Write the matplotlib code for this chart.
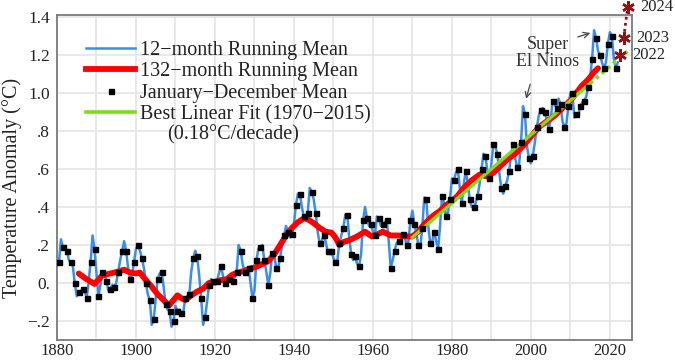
import matplotlib
matplotlib.use("Agg")
import matplotlib.pyplot as plt
from matplotlib.lines import Line2D
import numpy as np

plt.rcParams['font.family'] = ['Liberation Serif', 'DejaVu Serif']

# ---- data (anomaly, deg C) ----
years = list(range(1880, 2022))
annual = [0.11, 0.19, 0.17, 0.11, 0.00, -0.05, -0.03, -0.08, 0.11, 0.18,
          -0.07, 0.06, 0.01, -0.03, -0.02, 0.06, 0.17, 0.17, 0.02, 0.11,
          0.20, 0.13, 0.00, -0.09, -0.19, 0.02, 0.06, -0.11, -0.15, -0.20,
          -0.15, -0.16, -0.08, -0.06, 0.13, 0.14, -0.08, -0.18, -0.01, 0.01,
          0.01, 0.09, 0.00, 0.02, 0.01, 0.06, 0.17, 0.06, 0.08, -0.08,
          0.12, 0.19, 0.12, -0.01, 0.16, 0.08, 0.13, 0.25, 0.27, 0.26,
          0.41, 0.47, 0.35, 0.37, 0.48, 0.37, 0.21, 0.25, 0.17, 0.17,
          0.11, 0.21, 0.29, 0.36, 0.15, 0.14, 0.09, 0.33, 0.34, 0.31,
          0.25, 0.34, 0.31, 0.33, 0.08, 0.17, 0.22, 0.26, 0.20, 0.33,
          0.31, 0.20, 0.29, 0.44, 0.21, 0.27, 0.18, 0.46, 0.35, 0.44,
          0.54, 0.60, 0.42, 0.59, 0.44, 0.40, 0.46, 0.60, 0.67, 0.55,
          0.73, 0.68, 0.50, 0.51, 0.59, 0.73, 0.61, 0.74, 0.89, 0.66,
          0.67, 0.82, 0.91, 0.90, 0.81, 0.96, 0.92, 0.94, 0.82, 0.93,
          1.00, 0.89, 0.93, 0.96, 1.03, 1.18, 1.29, 1.20, 1.13, 1.26,
          1.30, 1.13]

# 12-month running mean at the turn of each year (Jul-Jun means), 1881..2022
mid_years = list(range(1881, 2023))
mid_vals = [0.23, 0.19, 0.12, 0.09, -0.07, -0.05, -0.04, 0.00, 0.25, 0.05,
            -0.01, 0.05, -0.04, -0.01, 0.00, 0.12, 0.22, 0.08, 0.04, 0.18,
            0.17, 0.08, -0.06, -0.22, -0.08, 0.05, -0.02, -0.14, -0.23, -0.12,
            -0.14, -0.15, -0.08, 0.06, 0.17, 0.04, -0.22, -0.10, 0.02, -0.01,
            0.05, 0.04, 0.01, 0.01, 0.03, 0.20, 0.10, 0.07, 0.00, -0.04,
            0.18, 0.20, 0.06, 0.05, 0.15, 0.08, 0.20, 0.30, 0.24, 0.31,
            0.47, 0.40, 0.33, 0.50, 0.44, 0.27, 0.22, 0.22, 0.16, 0.13,
            0.12, 0.25, 0.36, 0.24, 0.12, 0.10, 0.15, 0.40, 0.30, 0.27,
            0.35, 0.30, 0.32, 0.22, 0.12, 0.21, 0.22, 0.25, 0.22, 0.38,
            0.26, 0.19, 0.45, 0.30, 0.22, 0.22, 0.30, 0.42, 0.37, 0.55,
            0.58, 0.50, 0.52, 0.53, 0.40, 0.42, 0.52, 0.68, 0.58, 0.63,
            0.72, 0.58, 0.47, 0.54, 0.68, 0.66, 0.62, 0.93, 0.72, 0.63,
            0.74, 0.88, 0.92, 0.86, 0.86, 0.94, 0.97, 0.85, 0.84, 1.00,
            0.87, 0.88, 0.95, 0.98, 1.08, 1.33, 1.22, 1.16, 1.16, 1.32,
            1.18, 1.16]

# 132-month running mean
red_years = [1885.5, 1887.5, 1889.5, 1891.5, 1893.5, 1895.5, 1897.0, 1898.5,
             1900.0, 1901.0, 1902.5, 1904.0, 1905.5, 1907.0, 1908.3, 1909.5,
             1910.5, 1911.5, 1912.5, 1914.0, 1915.5, 1917.0, 1918.5, 1920.0,
             1921.5, 1923.0, 1924.5, 1926.0, 1927.5, 1929.0, 1930.5, 1932.0,
             1933.5, 1935.0, 1936.5, 1938.0, 1939.5, 1941.0, 1942.5, 1943.5,
             1945.0, 1946.5, 1948.0, 1949.5, 1950.5, 1951.5, 1952.5, 1954.0,
             1956.0, 1958.0, 1959.7, 1961.0, 1962.5, 1964.5, 1966.5, 1968.5,
             1970.0, 1971.5, 1973.0, 1975.0, 1977.0, 1978.5, 1980.0, 1981.5,
             1983.0, 1985.0, 1987.0, 1989.0, 1990.5, 1992.0, 1994.0, 1996.0,
             1998.0, 2000.0, 2002.0, 2004.0, 2006.0, 2008.0, 2010.0, 2011.5,
             2013.0, 2014.5, 2016.0, 2017.0]
red_vals = [0.05, 0.02, -0.005, 0.04, 0.05, 0.06, 0.07, 0.055,
            0.05, 0.055, 0.015, -0.02, -0.06, -0.09, -0.12, -0.09,
            -0.065, -0.08, -0.09, -0.065, -0.045, -0.03, 0.0, 0.005,
            0.015, 0.02, 0.045, 0.055, 0.065, 0.077, 0.085, 0.10,
            0.115, 0.15, 0.20, 0.25, 0.29, 0.32, 0.34, 0.335,
            0.315, 0.29, 0.27, 0.265, 0.24, 0.20, 0.215, 0.225,
            0.245, 0.27, 0.245, 0.255, 0.27, 0.25, 0.25, 0.245,
            0.245, 0.27, 0.31, 0.35, 0.38, 0.41, 0.43, 0.46,
            0.50, 0.54, 0.57, 0.56, 0.58, 0.61, 0.65, 0.68,
            0.72, 0.77, 0.82, 0.85, 0.88, 0.92, 0.96, 1.00,
            1.04, 1.07, 1.11, 1.13]

# best linear fit 1970-2015 and its extension
fit_years = [1970, 2015]
fit_vals = [0.24, 1.05]
ext_years = [2015, 2024.5]
ext_vals = [1.05, 1.22]

# recent years (stars)
star_years = [2022, 2023, 2024]
star_vals = [1.20, 1.29, 1.45]
star_labels = ['2022', '2023', '2024']

# ---- figure ----
W, H = 675, 360
fig = plt.figure(figsize=(W / 100, H / 100), dpi=100)
ax = fig.add_axes([57 / W, 1 - 340 / H, (632 - 57) / W, (340 - 15) / H])

blue = '#3a8ee8'
red = '#ff0000'
green = '#7edc1c'
dark_red = '#8b1414'

# grid
ax.set_xticks(np.arange(1880, 2021, 20))
ax.set_xticks(np.arange(1890, 2021, 20), minor=True)
yt = [-0.2, 0.0, 0.2, 0.4, 0.6, 0.8, 1.0, 1.2, 1.4]
ax.set_yticks(yt)
ax.set_yticklabels(['\u2212.2', '0.', '.2', '.4', '.6', '.8', '1.0', '1.2', '1.4'])
ax.grid(True, which='both', color='#e4e4e4', lw=1.2, zorder=0)
ax.set_axisbelow(True)
ax.tick_params(which='both', length=0, labelsize=12.5, colors='#222222')
ax.tick_params(axis='y', pad=5)
ax.tick_params(axis='x', pad=2.5, labelsize=12)

# blue line: annual means at mid-year merged with turn-of-year values
bx = [y + 0.5 for y in years] + [float(y) for y in mid_years]
by = annual + mid_vals
order = np.argsort(bx)
bx = np.array(bx)[order]
by = np.array(by)[order]
ax.plot(bx, by, color=blue, lw=1.8, zorder=2, solid_joinstyle='round')

# red 132-month mean
ax.plot(red_years, red_vals, color=red, lw=4.2, solid_capstyle='round', zorder=3)

# linear fit
ax.plot(fit_years, fit_vals, color=green, lw=2.4, zorder=4)
ax.plot(ext_years, ext_vals, color=green, lw=2.6, ls=(0, (1, 1.1)), zorder=4)

# annual squares
ax.plot([y + 0.5 for y in years], annual, ls='none', marker='s', ms=3.6,
        color='black', zorder=5)

# stars
sx = [y + 0.5 for y in star_years]
ax.plot(sx[1:], star_vals[1:], color=dark_red, lw=2, ls=(0, (1, 1.2)),
        clip_on=False, zorder=6)
ax.plot(sx, star_vals, ls='none', marker=(6, 2, 0), ms=9, mew=1.8,
        color=dark_red, clip_on=False, zorder=7)
for x, v, lab in zip(sx, star_vals, star_labels):
    ax.annotate(lab, (x, v), xytext=(9, 0), textcoords='offset points',
                va='center', ha='left', fontsize=12, color='#222222',
                annotation_clip=False)

ax.set_xlim(1880, 2025.6)
ax.set_ylim(-0.3, 1.41)

for s in ax.spines.values():
    s.set_color('#7a7a7a')
    s.set_linewidth(1.3)

ax.set_ylabel('Temperature Anomaly (\u00b0C)', fontsize=14.5, color='#222222')
ax.yaxis.set_label_coords(-0.078, 0.469)
ax.yaxis.label.set_va('center')

# El Nino annotation
ax.text(2004.3, 1.21, 'Super\nEl Ninos', ha='center', va='center',
        fontsize=13, linespacing=1.05, color='#333333')
ax.annotate('', xy=(2015.7, 1.32), xytext=(2011.2, 1.29),
            arrowprops=dict(arrowstyle='->', color='#444444', lw=0.9))
ax.annotate('', xy=(1998.6, 0.955), xytext=(2000.0, 1.06),
            arrowprops=dict(arrowstyle='->', color='#444444', lw=0.9))

# legend
handles = [Line2D([], [], color=blue, lw=1.8),
           Line2D([], [], color=red, lw=4.2),
           Line2D([], [], ls='none', marker='s', ms=3.6, color='black'),
           Line2D([], [], color=green, lw=2.6)]
labels = ['12\u2212month Running Mean', '132\u2212month Running Mean',
          'January\u2212December Mean', 'Best Linear Fit (1970\u22122015)']
leg = ax.legend(handles, labels, loc='upper left',
                bbox_to_anchor=(86 / W, 1 - 40.5 / H), bbox_transform=fig.transFigure,
                frameon=False, fontsize=14.5, handlelength=2.45, handletextpad=0.25,
                labelspacing=0.12, borderpad=0, borderaxespad=0)
for t in leg.get_texts():
    t.set_color('#222222')
fig.text(167 / W, 1 - 135 / H, '(0.18\u00b0C/decade)', fontsize=14.5,
         va='center', ha='left', color='#222222')

fig.savefig('out.png', dpi=100)
